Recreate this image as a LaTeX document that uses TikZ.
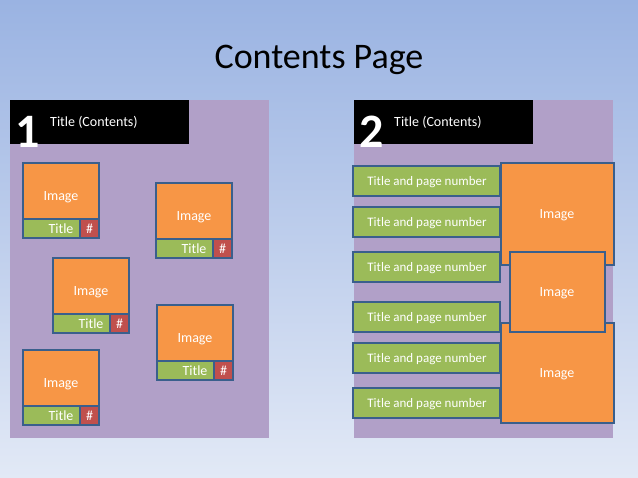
\documentclass[tikz,border=0pt]{standalone}
\usepackage{fontspec}
\setmainfont{Carlito}
\definecolor{bgtop}{HTML}{9AB3E2}
\definecolor{bgbot}{HTML}{E2E9F6}
\definecolor{panel}{HTML}{B1A0C8}
\definecolor{org}{HTML}{F79646}
\definecolor{grn}{HTML}{9BBB59}
\definecolor{rd}{HTML}{C0504D}
\definecolor{edge}{HTML}{3A5F8C}
\tikzset{
  img/.style={draw=edge,line width=1.2pt,fill=org},
  gbar/.style={draw=edge,line width=1.2pt,fill=grn},
  rbox/.style={draw=edge,line width=1.2pt,fill=rd},
  lbl/.style={text=white,font=\fontsize{14}{16}\selectfont,inner sep=0pt},
  num/.style={font=\fontsize{48}{50}\selectfont\bfseries,text=white,inner sep=0pt},
}
\begin{document}
\begin{tikzpicture}[x=1pt,y=-1pt]
\useasboundingbox (0,0) rectangle (638,478);
\shade[top color=bgtop,bottom color=bgbot] (0,0) rectangle (638,478);
\node[font=\fontsize{36}{40}\selectfont,inner sep=0pt] (head) at (319,60) {Contents Page};
% panels
\fill[panel] (10,100) rectangle (269,438);
\fill[panel] (354,100) rectangle (613,438);
\fill[black] (10,100) rectangle (189,144);
\fill[black] (354,100) rectangle (533,144);
\node[num] (n1) at (28,132) {1};
\node[num] (n2) at (372,132) {2};
\node[lbl,anchor=west,font=\fontsize{14}{16}\selectfont] (t1) at (50,122) {Title (Contents)};
\node[lbl,anchor=west,font=\fontsize{14}{16}\selectfont] (t2) at (394,122) {Title (Contents)};
% left items: image box, title bar
\foreach \x/\y/\n in {23/163/a,156/183/b,53/258/c,157/305/d,23/350/e}{
  \draw[img] (\x,\y) rectangle ++(76,56);
  \node[lbl] (im\n) at (\x+38,\y+34) {Image};
  \draw[gbar] (\x,\y+56) rectangle ++(57,19);
  \draw[rbox] (\x+57,\y+56) rectangle ++(19,19);
  \node[lbl] (ti\n) at (\x+38,\y+66) {Title};
  \node[lbl] (hs\n) at (\x+66.5,\y+66) {\#};
}
% right
\foreach \y/\n in {166/1,207/2,252/3,302/4,343/5,388/6}{
  \draw[gbar] (353,\y) rectangle (500,\y+30);
  \node[lbl,font=\fontsize{13}{15}\selectfont] (tp\n) at (427,\y+16) {Title and page number};
}
\draw[img] (501,163) rectangle (614,265);
\node[lbl] (ri1) at (557,215) {Image};
\draw[img] (501,323) rectangle (614,423);
\node[lbl] (ri3) at (557,374) {Image};
\draw[img] (510,252) rectangle (605,332);
\node[lbl] (ri2) at (557,293) {Image};
\end{tikzpicture}
\end{document}
